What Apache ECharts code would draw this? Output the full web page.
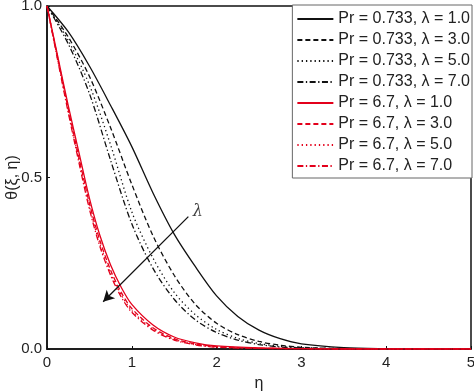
<!DOCTYPE html>
<html><head><meta charset="utf-8">
<script src="https://cdn.jsdelivr.net/npm/echarts@6/dist/echarts.min.js"></script>
<style>html,body{margin:0;padding:0;background:#fff}#c{width:474px;height:391px}</style>
</head><body><div id="c"></div>
<script>
// eta grids
var etaBlack = [0,0.25,0.5,0.75,1.0,1.25,1.5,1.75,2.0,2.25,2.5,2.75,3.0,3.5,4.0,4.5,5.0];
var etaRed = [0,0.125,0.25,0.375,0.5,0.625,0.75,0.875,1.0,1.25,1.5,1.75,2.0,2.5,3.0,3.5,5.0];
// Pr = 0.733
var pr0733_l1 = [1,0.925,0.825,0.71,0.59,0.455,0.335,0.24,0.155,0.095,0.055,0.03,0.015,0.004,0.001,0,0];
var pr0733_l3 = [1,0.91,0.795,0.645,0.48,0.33,0.215,0.13,0.075,0.042,0.022,0.011,0.005,0.001,0,0,0];
var pr0733_l5 = [1,0.9,0.77,0.595,0.40,0.265,0.165,0.1,0.057,0.031,0.016,0.008,0.004,0.001,0,0,0];
var pr0733_l7 = [1,0.89,0.745,0.55,0.365,0.235,0.145,0.085,0.048,0.026,0.013,0.006,0.003,0,0,0,0];
// Pr = 6.7
var pr67_l1 = [1,0.855,0.71,0.575,0.44,0.33,0.245,0.18,0.13,0.07,0.035,0.018,0.009,0.003,0.001,0,0];
var pr67_l3 = [1,0.85,0.70,0.56,0.425,0.315,0.23,0.165,0.118,0.062,0.03,0.015,0.007,0.002,0.001,0,0];
var pr67_l5 = [1,0.847,0.695,0.553,0.415,0.305,0.222,0.158,0.112,0.058,0.028,0.013,0.006,0.002,0.001,0,0];
var pr67_l7 = [1,0.843,0.69,0.545,0.408,0.298,0.215,0.152,0.107,0.055,0.026,0.012,0.005,0.002,0.001,0,0];
var names = ['Pr = 0.733, \u03bb = 1.0','Pr = 0.733, \u03bb = 3.0','Pr = 0.733, \u03bb = 5.0','Pr = 0.733, \u03bb = 7.0',
             'Pr = 6.7, \u03bb = 1.0','Pr = 6.7, \u03bb = 3.0','Pr = 6.7, \u03bb = 5.0','Pr = 6.7, \u03bb = 7.0'];
var xTicks = [0,1,2,3,4,5];
var yTicks = [0,0.5,1.0];
// arrow (annotation) in data coordinates
var arrowStart = [1.667,0.386];
var arrowEnd = [0.662,0.138];
var lambdaLabelPos = [1.78,0.4];

function pairs(xs, ys){ return xs.map(function(x,i){return [x, ys[i]];}); }
var FONT = 'Liberation Sans';
var BLACK = '#111', RED = '#e3001b';
var dashes = ['solid',[5,3],[1.3,3],[6,2.5,1.3,2.5]];
var allData = [[etaBlack,pr0733_l1],[etaBlack,pr0733_l3],[etaBlack,pr0733_l5],[etaBlack,pr0733_l7],
               [etaRed,pr67_l1],[etaRed,pr67_l3],[etaRed,pr67_l5],[etaRed,pr67_l7]];
var series = allData.map(function(d,i){
  return {name:names[i], type:'line', smooth:0.3, symbol:'none', silent:true,
    data:pairs(d[0],d[1]),
    lineStyle:{color: i<4?BLACK:RED, width:1.3, type:dashes[i%4]},
    itemStyle:{color: i<4?BLACK:RED}, z:3};
});
series.push({type:'line', data:[], symbol:'none', silent:true,
  markLine:{silent:true, symbol:['none','arrow'], symbolSize:[9,11],
    lineStyle:{color:'#111', width:1.3, type:'solid'}, label:{show:false},
    data:[[{coord:arrowStart},{coord:arrowEnd}]]}});
series.push({type:'scatter', data:[lambdaLabelPos], symbolSize:0, silent:true,
  label:{show:true, formatter:'\u03bb', position:'inside', fontFamily:'DejaVu Serif', fontStyle:'italic', fontSize:16, color:'#111'}});

var chart = echarts.init(document.getElementById('c'));
chart.setOption({
  animation:false,
  textStyle:{fontFamily:FONT},
  grid:{left:47, right:3, top:6, bottom:42, show:true, borderColor:'#111', borderWidth:1.5, backgroundColor:'transparent',
    containLabel:false, outerBoundsMode:'none'},
  legend:{data:names, orient:'vertical', right:2, top:5, itemWidth:36, itemHeight:12, itemGap:5,
    borderColor:'#666', borderWidth:1, padding:[6,2,4,4], backgroundColor:'#fff',
    itemStyle:{opacity:0},
    textStyle:{fontFamily:FONT, fontSize:16, color:'#222', padding:[0,0,0,0]}, selectedMode:false},
  xAxis:{type:'value', min:0, max:5, interval:1, name:'\u03b7', nameLocation:'middle', nameGap:27,
    nameTextStyle:{fontFamily:FONT, fontSize:16, color:'#222'},
    axisLine:{lineStyle:{color:'#111', width:1.5}}, axisTick:{show:true, inside:true, length:3, lineStyle:{color:'#111'}},
    splitLine:{show:false}, axisLabel:{fontSize:15, color:'#222', margin:6,
      formatter:function(v){return xTicks.indexOf(v)>=0?String(v):'';}}},
  yAxis:{type:'value', min:0, max:1, interval:0.5, name:'\u03b8(\u03be, \u03b7)', nameLocation:'middle', nameGap:26,
    nameMoveOverlap:false,
    nameTextStyle:{fontFamily:FONT, fontSize:16, color:'#222'},
    axisLine:{lineStyle:{color:'#111', width:1.5}}, axisTick:{show:true, inside:true, length:3, lineStyle:{color:'#111'}},
    splitLine:{show:false}, axisLabel:{fontSize:15, color:'#222', margin:5,
      formatter:function(v){return yTicks.indexOf(v)>=0?v.toFixed(1):'';}}},
  series:series
});
</script></body></html>
